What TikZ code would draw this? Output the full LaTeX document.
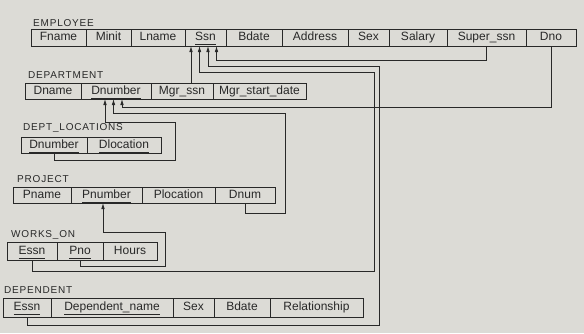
\documentclass[tikz,border=0pt]{standalone}
\usepackage{fontspec}
\setmainfont{Liberation Sans}
\newfontfamily\labfont[LetterSpace=8]{Liberation Sans}
\usetikzlibrary{arrows.meta}
\definecolor{paper}{RGB}{220,219,214}
\definecolor{ink}{RGB}{40,40,40}
\tikzset{
  cellbox/.style={draw=ink, line width=0.8pt, inner sep=0pt, outer sep=0pt,
    font=\fontsize{12}{13}\selectfont, text=ink, anchor=north west,
    text height=8.6pt, text depth=2.6pt},
  tlabel/.style={anchor=base west, inner sep=0pt, font=\labfont\fontsize{10}{12}\selectfont, text=ink},
  conn/.style={draw=ink, line width=0.8pt},
  arr/.style={conn, -{Latex[length=6pt,width=3.6pt]}},
}
\newcommand\cellat[6]{\node[cellbox, minimum width={(#3)-(#2)}, minimum height={(#5)-(#4)}] (#1) at (#2,#4) {#6};}
\newcommand\ukey[1]{\underline{\smash{#1}\vphantom{p}}}
\begin{document}
\begin{tikzpicture}[x=1pt,y=-1pt]
\fill[paper] (0,0) rectangle (584,333);
\useasboundingbox (0,0) rectangle (584,333);
% EMPLOYEE
\node[tlabel] (lab-e) at (33,26) {EMPLOYEE};
\cellat{e-fname}{31}{86}{29}{46}{Fname}
\cellat{e-minit}{86}{131}{29}{46}{Minit}
\cellat{e-lname}{131}{185}{29}{46}{Lname}
\cellat{e-ssn}{185}{226}{29}{46}{\ukey{Ssn}}
\cellat{e-bdate}{226}{282}{29}{46}{Bdate}
\cellat{e-address}{282}{348}{29}{46}{Address}
\cellat{e-sex}{348}{389}{29}{46}{Sex}
\cellat{e-salary}{389}{447}{29}{46}{Salary}
\cellat{e-super}{447}{526}{29}{46}{Super\_ssn}
\cellat{e-dno}{526}{576}{29}{46}{Dno}
% DEPARTMENT
\node[tlabel] (lab-d) at (28,78) {DEPARTMENT};
\cellat{d-dname}{25}{81}{83}{99}{Dname}
\cellat{d-dnum}{81}{151}{83}{99}{\ukey{Dnumber}}
\cellat{d-mgrssn}{151}{213}{83}{99}{Mgr\_ssn}
\cellat{d-mgrdate}{213}{306}{83}{99}{Mgr\_start\_date}
% DEPT_LOCATIONS
\node[tlabel] (lab-l) at (23,130) {DEPT\_LOCATIONS};
\cellat{l-dnum}{21}{87}{137}{153}{\ukey{Dnumber}}
\cellat{l-dloc}{87}{161}{137}{153}{\ukey{Dlocation}}
% PROJECT
\node[tlabel] (lab-p) at (17,182) {PROJECT};
\cellat{p-pname}{13}{71}{187}{203}{Pname}
\cellat{p-pnum}{71}{142}{187}{203}{\ukey{Pnumber}}
\cellat{p-ploc}{142}{215}{187}{203}{Plocation}
\cellat{p-dnum}{215}{275}{187}{203}{Dnum}
% WORKS_ON
\node[tlabel] (lab-w) at (11,237) {WORKS\_ON};
\cellat{w-essn}{7}{57}{242}{260}{\ukey{Essn}}
\cellat{w-pno}{57}{103}{242}{260}{\ukey{Pno}}
\cellat{w-hours}{103}{157}{242}{260}{Hours}
% DEPENDENT
\node[tlabel] (lab-dp) at (4,293) {DEPENDENT};
\cellat{dp-essn}{3}{51}{298}{317}{\ukey{Essn}}
\cellat{dp-dname}{51}{173}{298}{317}{\ukey{Dependent\_name}}
\cellat{dp-sex}{173}{214}{298}{317}{Sex}
\cellat{dp-bdate}{214}{270}{298}{317}{Bdate}
\cellat{dp-rel}{270}{363}{298}{317}{Relationship}
% arrow end points
\coordinate (s1) at ([xshift=-14.5pt]e-ssn.south);
\coordinate (s2) at ([xshift=-6pt]e-ssn.south);
\coordinate (s3) at ([xshift=2.5pt]e-ssn.south);
\coordinate (s4) at ([xshift=11pt]e-ssn.south);
\coordinate (n1) at ([xshift=-11pt]d-dnum.south);
\coordinate (n2) at ([xshift=-2.5pt]d-dnum.south);
\coordinate (n3) at ([xshift=6pt]d-dnum.south);
\coordinate (q) at ([xshift=-3.5pt]p-pnum.south);
% connectors
\draw[arr] (d-mgrssn.north -| s1) -- (s1);
\draw[arr] (w-essn.south) -- (32,271) -- (374,271) -- (374,72) -- (199.5,72) -- (s2);
\draw[arr] (dp-essn.south) -- (27,325) -- (379,325) -- (379,66) -- (208,66) -- (s3);
\draw[arr] (e-super.south) -- (486.5,60) -- (216.5,60) -- (s4);
\draw[arr] (e-dno.south) -- (551,107) -- (122,107) -- (n3);
\draw[arr] (p-dnum.south) -- (245,213) -- (285,213) -- (285,113) -- (113.5,113) -- (n2);
\draw[arr] (l-dnum.south) -- (54,160) -- (175,160) -- (175,122) -- (105,122) -- (n1);
\draw[arr] (w-pno.south) -- (80,266) -- (165,266) -- (165,232) -- (103,232) -- (q);
\end{tikzpicture}
\end{document}
